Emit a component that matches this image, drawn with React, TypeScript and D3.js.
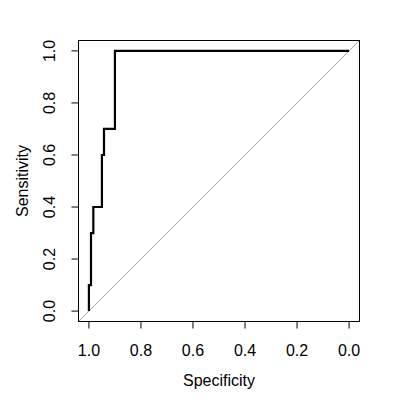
import { useEffect } from "react";
import * as d3 from "d3";

// ROC step points (specificity reversed on x)
const specificity = [1.0, 1.0, 0.992, 0.983, 0.95, 0.942, 0.9, 0.0];
const sensitivity = [0.0, 0.1, 0.3, 0.4, 0.6, 0.7, 1.0, 1.0];
const xTicks = [1.0, 0.8, 0.6, 0.4, 0.2, 0.0];
const yTicks = [0.0, 0.2, 0.4, 0.6, 0.8, 1.0];

const W = 400;
const H = 400;
const box = { left: 78.5, right: 359.5, top: 40.5, bottom: 321.5 };
const font = "'Liberation Sans', Arial, sans-serif";

export default function App() {
  useEffect(() => {
    document.body.style.margin = "0";
  }, []);

  // R's 4% axis extension on each side
  const x = d3.scaleLinear().domain([1.04, -0.04]).range([box.left, box.right]);
  const y = d3.scaleLinear().domain([-0.04, 1.04]).range([box.bottom, box.top]);

  const points = specificity.map((s, i) => [s, sensitivity[i]] as [number, number]);
  const rocPath = d3
    .line<[number, number]>()
    .x((d) => x(d[0]))
    .y((d) => y(d[1]))
    .curve(d3.curveStepAfter)(points);

  const fmt = d3.format(".1f");

  return (
    <svg width={W} height={H} style={{ display: "block", background: "#fff" }} fontFamily={font}>
      <defs>
        <clipPath id="plot-clip">
          <rect x={box.left} y={box.top} width={box.right - box.left} height={box.bottom - box.top} />
        </clipPath>
      </defs>

      {/* identity line */}
      <line
        x1={x(1.04)}
        y1={y(-0.04)}
        x2={x(-0.04)}
        y2={y(1.04)}
        stroke="#a9a9a9"
        strokeWidth={1}
        clipPath="url(#plot-clip)"
      />

      <path d={rocPath ?? ""} fill="none" stroke="#000" strokeWidth={2.2} />

      <rect
        x={box.left}
        y={box.top}
        width={box.right - box.left}
        height={box.bottom - box.top}
        fill="none"
        stroke="#000"
        strokeWidth={1}
      />

      {/* x axis */}
      <line x1={x(1)} x2={x(0)} y1={box.bottom} y2={box.bottom} stroke="#000" />
      {xTicks.map((t) => (
        <g key={`x${t}`}>
          <line x1={x(t)} x2={x(t)} y1={box.bottom} y2={box.bottom + 7} stroke="#000" />
          <text x={x(t)} y={356} textAnchor="middle" fontSize={16} fill="#000">
            {fmt(t)}
          </text>
        </g>
      ))}
      <text x={(box.left + box.right) / 2} y={386} textAnchor="middle" fontSize={16} fill="#000">
        Specificity
      </text>

      {/* y axis */}
      <line x1={box.left} x2={box.left} y1={y(0)} y2={y(1)} stroke="#000" />
      {yTicks.map((t) => (
        <g key={`y${t}`}>
          <line x1={box.left - 7} x2={box.left} y1={y(t)} y2={y(t)} stroke="#000" />
          <text
            transform={`translate(55,${y(t)}) rotate(-90)`}
            textAnchor="middle"
            fontSize={16}
            fill="#000"
          >
            {fmt(t)}
          </text>
        </g>
      ))}
      <text
        transform={`translate(27.5,${(box.top + box.bottom) / 2}) rotate(-90)`}
        textAnchor="middle"
        fontSize={16}
        fill="#000"
      >
        Sensitivity
      </text>
    </svg>
  );
}
